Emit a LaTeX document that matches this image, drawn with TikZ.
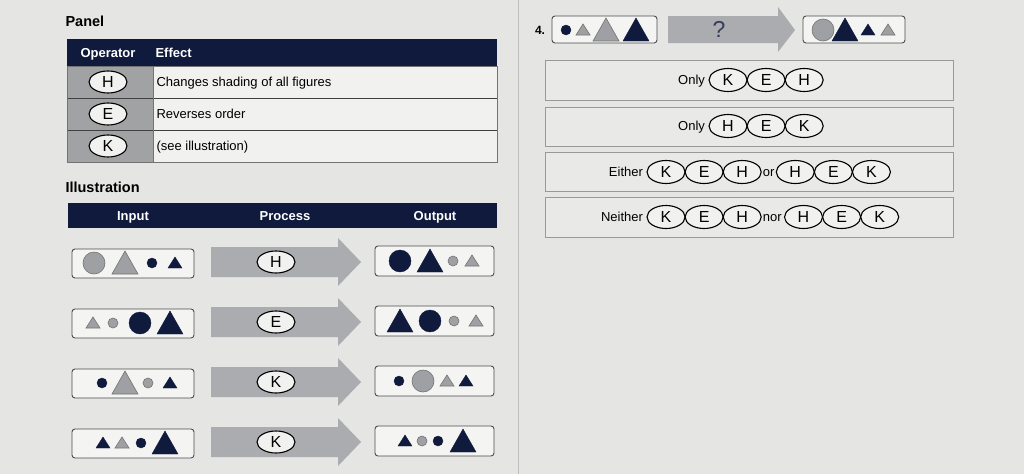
\documentclass[tikz,border=0pt]{standalone}
\usepackage{fontspec}
\setmainfont{Liberation Sans}
\usepackage{tikz}
\usetikzlibrary{
    shapes.geometric,
    positioning
}
\definecolor{qnavy}{RGB}{16, 26, 60}
\definecolor{qgrey}{RGB}{158, 160, 163}
\definecolor{qarrow}{RGB}{170, 172, 175}
\definecolor{qback}{RGB}{229, 229, 227}
\definecolor{qcell}{RGB}{241, 241, 240}
\definecolor{qopcol}{RGB}{160, 162, 164}
\definecolor{qbox}{RGB}{244, 244, 243}
\definecolor{qans}{RGB}{233, 233, 232}

% figures: x, y, style
\newcommand{\bigball}[3]{\filldraw[#3] (#1,#2) circle (11pt);}
\newcommand{\smallball}[3]{\filldraw[#3] (#1,#2) circle (5pt);}
\newcommand{\bigtri}[3]{\filldraw[#3] (#1-13,#2+11) -- (#1,#2-12) -- (#1+13,#2+11) -- cycle;}
\newcommand{\smalltri}[3]{\filldraw[#3] (#1-7,#2+5) -- (#1,#2-6) -- (#1+7,#2+5) -- cycle;}

\begin{document}
\begin{tikzpicture}[x=1pt,y=-1pt,
    opsym/.style={ellipse,draw=black,line width=1.1pt,fill=qcell,minimum width=38pt,
        minimum height=23pt,inner sep=0pt,font=\fontsize{16}{16}\selectfont},
    figbox/.style={draw=black!70,fill=qbox,rounded corners=3pt,line width=0.9pt},
    ansbox/.style={draw=black!40,fill=qans,line width=0.8pt},
    navyfig/.style={fill=qnavy,draw=qnavy},
    greyfig/.style={fill=qgrey,draw=black!55,line width=0.6pt},
    hdr/.style={text=white,font=\fontsize{13}{15}\selectfont\bfseries,text height=10pt,text depth=1pt},
    txt/.style={font=\fontsize{13}{15}\selectfont,text height=10pt,text depth=1pt},
    ttl/.style={font=\fontsize{14.5}{16}\selectfont\bfseries}]
    \useasboundingbox (0,0) rectangle (1024,474);
    \fill[qback] (0,0) rectangle (1024,474);
    \draw[black!25,line width=1pt] (518,0) -- (518,474);

    % Panel
    \node[ttl,anchor=west] (panel) at (62,21) {Panel};
    \fill[qnavy] (67,39) rectangle (497,66);
    \node[hdr] (hop) at (108,52.5) {Operator};
    \node[hdr,anchor=west] (heff) at (152,52.5) {Effect};
    \fill[qopcol] (67,66) rectangle (153,162);
    \fill[qcell] (153,66) rectangle (497,162);
    \foreach \y in {98,130} {
        \draw[black!75,line width=0.9pt] (67,\y) -- (497,\y);
    }
    \draw[black!55,line width=0.8pt] (67,66) rectangle (497,162);
    \draw[black!55,line width=0.8pt] (153,66) -- (153,162);
    \foreach \op/\eff [count=\i] in {H/Changes shading of all figures, E/Reverses order, K/{(see illustration)}} {
        \node[opsym,minimum height=22pt] (op\i) at (108,{82+32*(\i-1)}) {\op};
        \node[txt,anchor=west] (eff\i) at (153,{82+32*(\i-1)}) {\eff};
    }

    % Illustration
    \node[ttl,anchor=west] (illu) at (62,187) {Illustration};
    \fill[qnavy] (68,203) rectangle (497,228);
    \node[hdr] (hin) at (133,215.5) {Input};
    \node[hdr] (hproc) at (285,215.5) {Process};
    \node[hdr] (hout) at (435,215.5) {Output};

    \begin{scope}
        \draw[figbox] (72,249) rectangle (194,278);
        \bigball{94}{263}{greyfig}
        \bigtri{125}{263}{greyfig}
        \smallball{152}{263}{navyfig}
        \smalltri{175}{263}{navyfig}
        \fill[qarrow] (211,247) -- (338,247) -- (338,238) -- (361,262) -- (338,286) -- (338,277) -- (211,277) -- cycle;
        \node[opsym,minimum height=22pt] (proc1) at (276,262) {H};
        \draw[figbox] (375,246) rectangle (494,276);
        \bigball{400}{261}{navyfig}
        \bigtri{430}{261}{navyfig}
        \smallball{453}{261}{greyfig}
        \smalltri{472}{261}{greyfig}
    \end{scope}

    \begin{scope}[yshift=-60pt]
        \draw[figbox] (72,249) rectangle (194,278);
        \smalltri{93}{263}{greyfig}
        \smallball{113}{263}{greyfig}
        \bigball{140}{263}{navyfig}
        \bigtri{170}{263}{navyfig}
        \fill[qarrow] (211,247) -- (338,247) -- (338,238) -- (361,262) -- (338,286) -- (338,277) -- (211,277) -- cycle;
        \node[opsym,minimum height=22pt] (proc2) at (276,262) {E};
        \draw[figbox] (375,246) rectangle (494,276);
        \bigtri{400}{261}{navyfig}
        \bigball{430}{261}{navyfig}
        \smallball{454}{261}{greyfig}
        \smalltri{476}{261}{greyfig}
    \end{scope}

    \begin{scope}[yshift=-120pt]
        \draw[figbox] (72,249) rectangle (194,278);
        \smallball{102}{263}{navyfig}
        \bigtri{125}{263}{greyfig}
        \smallball{148}{263}{greyfig}
        \smalltri{170}{263}{navyfig}
        \fill[qarrow] (211,247) -- (338,247) -- (338,238) -- (361,262) -- (338,286) -- (338,277) -- (211,277) -- cycle;
        \node[opsym,minimum height=22pt] (proc3) at (276,262) {K};
        \draw[figbox] (375,246) rectangle (494,276);
        \smallball{399}{261}{navyfig}
        \bigball{423}{261}{greyfig}
        \smalltri{447}{261}{greyfig}
        \smalltri{466}{261}{navyfig}
    \end{scope}

    \begin{scope}[yshift=-180pt]
        \draw[figbox] (72,249) rectangle (194,278);
        \smalltri{103}{263}{navyfig}
        \smalltri{122}{263}{greyfig}
        \smallball{141}{263}{navyfig}
        \bigtri{165}{263}{navyfig}
        \fill[qarrow] (211,247) -- (338,247) -- (338,238) -- (361,262) -- (338,286) -- (338,277) -- (211,277) -- cycle;
        \node[opsym,minimum height=22pt] (proc4) at (276,262) {K};
        \draw[figbox] (375,246) rectangle (494,276);
        \smalltri{405}{261}{navyfig}
        \smallball{422}{261}{greyfig}
        \smallball{438}{261}{navyfig}
        \bigtri{463}{261}{navyfig}
    \end{scope}

    % Question 4
    \node[font=\fontsize{12}{14}\selectfont\bfseries] (qnum) at (540,30) {4.};
    \draw[figbox] (552,16) rectangle (657,43);
    \smallball{566}{30}{navyfig}
    \smalltri{583}{30}{greyfig}
    \bigtri{606}{30}{greyfig}
    \bigtri{636}{30}{navyfig}
    \fill[qarrow] (668,16) -- (778,16) -- (778,7) -- (795,30) -- (778,52) -- (778,43) -- (668,43) -- cycle;
    \node[text=qnavy!85,font=\fontsize{23}{25}\selectfont] (qmark) at (719,29) {?};
    \draw[figbox] (803,16) rectangle (905,43);
    \bigball{823}{30}{greyfig}
    \bigtri{845}{30}{navyfig}
    \smalltri{868}{30}{navyfig}
    \smalltri{888}{30}{greyfig}

    % Answers
    \foreach \ya/\yb in {60/100, 107/146, 152/191, 197/237} {
        \draw[ansbox] (545,\ya) rectangle (953,\yb);
    }
    \node[opsym] (a1k) at (728,80) {K};
    \node[opsym,right=-1pt of a1k] (a1e) {E};
    \node[opsym,right=-1pt of a1e] (a1h) {H};
    \node[txt,left=0pt of a1k] (a1txt) {Only};

    \node[opsym] (a2h) at (728,126) {H};
    \node[opsym,right=-1pt of a2h] (a2e) {E};
    \node[opsym,right=-1pt of a2e] (a2k) {K};
    \node[txt,left=0pt of a2h] (a2txt) {Only};

    \node[opsym] (a3k) at (666,172) {K};
    \node[opsym,right=-1pt of a3k] (a3e) {E};
    \node[opsym,right=-1pt of a3e] (a3h) {H};
    \node[txt,left=0pt of a3k] (a3txt) {Either};
    \node[txt,right=0pt of a3h,inner sep=1pt] (a3or) {or};
    \node[opsym,right=0pt of a3or] (a3h2) {H};
    \node[opsym,right=-1pt of a3h2] (a3e2) {E};
    \node[opsym,right=-1pt of a3e2] (a3k2) {K};

    \node[opsym] (a4k) at (666,217) {K};
    \node[opsym,right=-1pt of a4k] (a4e) {E};
    \node[opsym,right=-1pt of a4e] (a4h) {H};
    \node[txt,left=0pt of a4k] (a4txt) {Neither};
    \node[txt,right=0pt of a4h,inner sep=1pt] (a4nor) {nor};
    \node[opsym,right=1pt of a4nor] (a4h2) {H};
    \node[opsym,right=-1pt of a4h2] (a4e2) {E};
    \node[opsym,right=-1pt of a4e2] (a4k2) {K};
\end{tikzpicture}
\end{document}
